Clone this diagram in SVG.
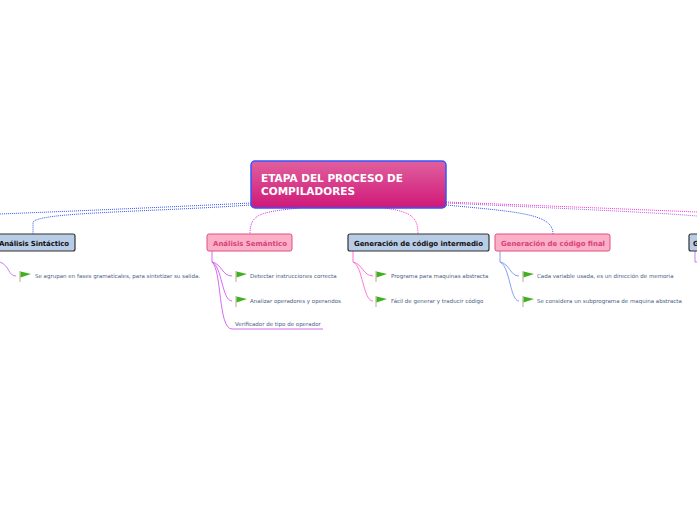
<svg xmlns="http://www.w3.org/2000/svg" width="697" height="520" viewBox="0 0 697 520">
<defs>
<linearGradient id="g" x1="0" y1="0" x2="0" y2="1"><stop offset="0" stop-color="#e0609e"/><stop offset="1" stop-color="#d01878"/></linearGradient>
<g id="flag"><line x1="1" y1="0" x2="1" y2="11" stroke="#c8b8a0" stroke-width="1.2"/><path d="M1.5 0.5 L12 3 L1.5 6.5 Z" fill="#40b020"/></g>
</defs>
<style>
.b{fill:#b8cce6;stroke:#333;stroke-width:1.2}
.p{fill:#fbb0c8;stroke:#e05080;stroke-width:1}
.bt{font:bold 7px "DejaVu Sans",sans-serif;fill:#111}
.pt{font:bold 7px "DejaVu Sans",sans-serif;fill:#d8407a}
.l{font:5.5px "DejaVu Sans",sans-serif;fill:#4a6080}
.d{fill:none;stroke-width:1;stroke-dasharray:1 1}
.c{fill:none;stroke-width:0.8}
</style>
<rect width="697" height="520" fill="#fff"/>
<g id="connectors">
<path class="d" stroke="#3355ee" d="M251 203 C150 208 50 212 0 214"/>
<path class="d" stroke="#3355ee" d="M251 205 C150 212 40 212 33 222 L33 234"/>
<path class="d" stroke="#cc33ee" d="M300 208 C260 212 250 214 250 234"/>
<path class="d" stroke="#ff33cc" d="M385 208 C410 212 418 216 418 234"/>
<path class="d" stroke="#3355ee" d="M446 205 C520 212 553 214 553 234"/>
<path class="d" stroke="#ff33cc" d="M446 202 C550 206 650 210 697 212"/>
<path class="d" stroke="#aa66ee" d="M446 203 C550 208 650 212 697 216"/>
<path class="c" stroke="#aa66ee" d="M0 262 C10 266 8 276 16 276"/>
<path class="c" stroke="#cc44ee" d="M212 251 L212 262 C222 264 222 276 232 276"/>
<path class="c" stroke="#cc44ee" d="M212 262 C222 266 222 301 232 301"/>
<path class="c" stroke="#cc44ee" d="M212 262 C222 270 218 329 232 329 L323 329"/>
<path class="c" stroke="#ff55cc" d="M353 251 L353 262 C363 264 363 276 373 276"/>
<path class="c" stroke="#ff55cc" d="M353 262 C363 266 363 301 373 301"/>
<path class="c" stroke="#6688ee" d="M500 251 L500 262 C510 264 510 276 519 276"/>
<path class="c" stroke="#6688ee" d="M500 262 C510 266 510 301 519 301"/>
<path class="c" stroke="#aa66ee" d="M695 251 L695 262 L697 262"/>
</g>
<g id="center"><rect x="251" y="161" width="195" height="47" rx="4" fill="url(#g)" stroke="#3355ff" stroke-width="1.5"/>
<text x="261" y="182" font-family="DejaVu Sans,sans-serif" font-weight="bold" font-size="10.5" fill="#fff">ETAPA DEL PROCESO DE</text>
<text x="261" y="195" font-family="DejaVu Sans,sans-serif" font-weight="bold" font-size="10.5" fill="#fff">COMPILADORES</text></g>
<g id="n1"><rect class="b" x="-6" y="234" width="81" height="17" rx="2"/><text class="bt" x="-1" y="245.5" textLength="70">Análisis Sintáctico</text></g>
<g id="n2"><rect class="p" x="207" y="234" width="85" height="17" rx="2"/><text class="pt" x="213" y="245.5" textLength="74">Análisis Semántico</text></g>
<g id="n3"><rect class="b" x="348" y="234" width="141" height="17" rx="2"/><text class="bt" x="354" y="245.5" textLength="129">Generación de código intermedio</text></g>
<g id="n4"><rect class="p" x="495" y="234" width="115" height="17" rx="2"/><text class="pt" x="501" y="245.5" textLength="104">Generación de código final</text></g>
<g id="n5"><rect class="b" x="689" y="234" width="20" height="17" rx="2"/><text class="bt" x="693" y="245.5">G</text></g>
<g id="l1"><use href="#flag" x="19" y="271"/><text class="l" x="35" y="278" textLength="165">Se agrupan en fases gramaticales, para sintetizar su salida.</text></g>
<g id="l2"><use href="#flag" x="235" y="271"/><text class="l" x="250" y="278">Detectar instrucciones correcta</text></g>
<g id="l3"><use href="#flag" x="235" y="296"/><text class="l" x="250" y="303">Analizar operadores y operandos</text></g>
<g id="l4"><text class="l" x="235" y="326">Verificador de tipo de operador</text></g>
<g id="l5"><use href="#flag" x="375" y="271"/><text class="l" x="391" y="278">Programa para maquinas abstracta</text></g>
<g id="l6"><use href="#flag" x="375" y="296"/><text class="l" x="391" y="303">Fácil de generar y traducir código</text></g>
<g id="l7"><use href="#flag" x="522" y="271"/><text class="l" x="537" y="278">Cada variable usada, es un dirección de memoria</text></g>
<g id="l8"><use href="#flag" x="522" y="296"/><text class="l" x="537" y="303">Se considera un subprograma de maquina abstracta</text></g>
</svg>
